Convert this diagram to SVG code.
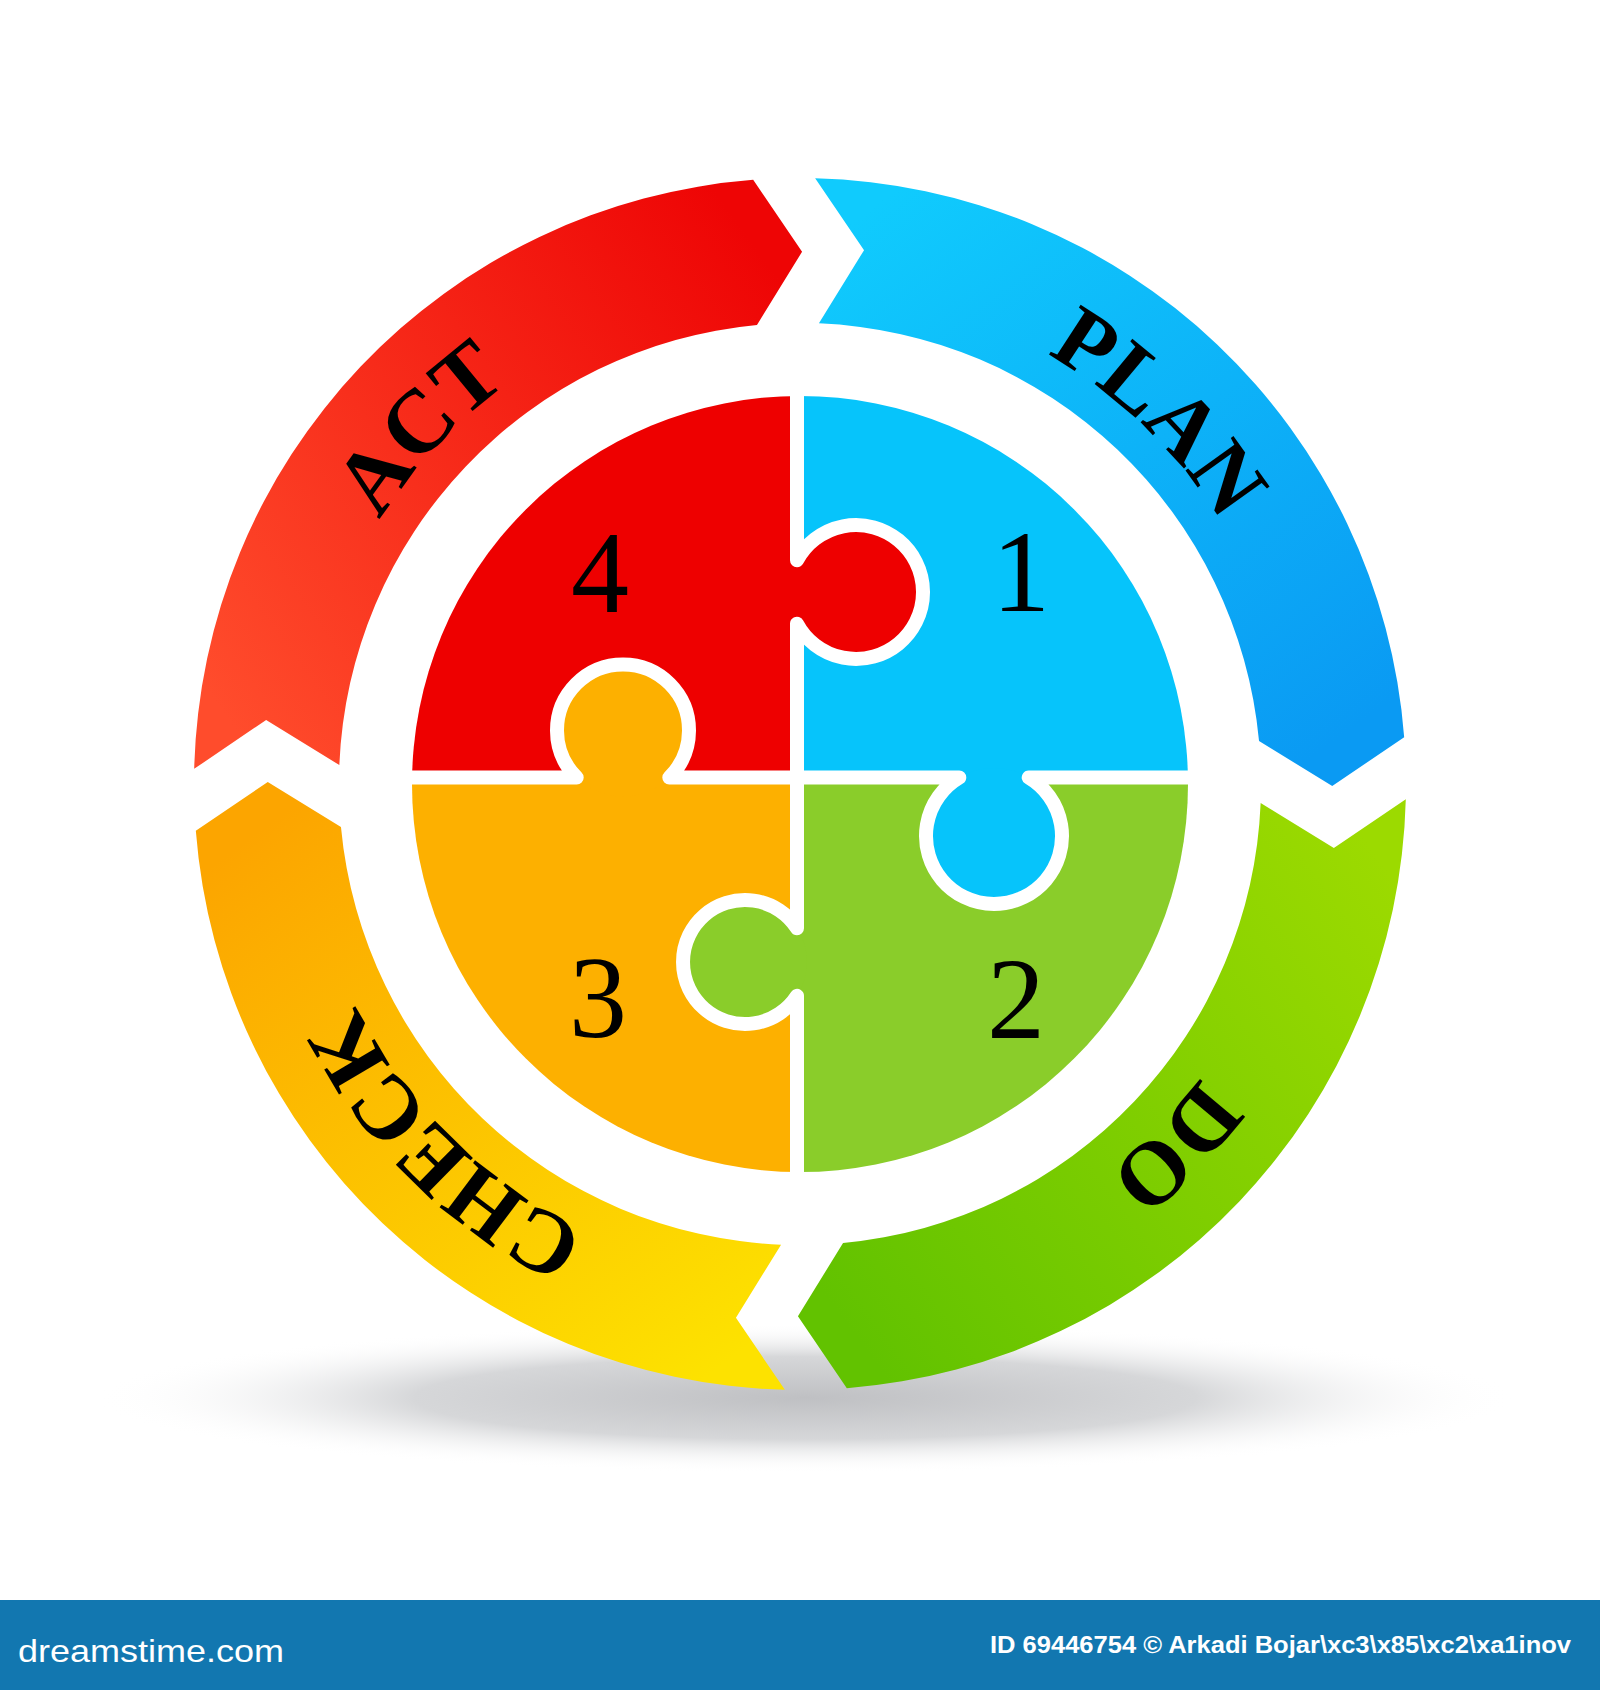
<svg xmlns="http://www.w3.org/2000/svg" width="1600" height="1690" viewBox="0 0 1600 1690">
<style>
.lbl{font-family:"Liberation Serif","Times New Roman",serif;font-weight:bold;font-size:90px;fill:#000}
.num{font-family:"Liberation Serif","Times New Roman",serif;font-size:116px;fill:#000;text-anchor:middle}
.seam{fill:none;stroke:#fff;stroke-width:14;stroke-linejoin:round}
.bar{font-family:"Liberation Sans",Arial,sans-serif;fill:#fff}
</style>
<defs>
<linearGradient id="gPlan" gradientUnits="userSpaceOnUse" x1="900" y1="200" x2="1300" y2="780"><stop offset="0" stop-color="#10cbfd"/><stop offset="1" stop-color="#0a9af3"/></linearGradient>
<linearGradient id="gDo" gradientUnits="userSpaceOnUse" x1="900" y1="200" x2="1300" y2="780"><stop offset="0" stop-color="#9cda00"/><stop offset="1" stop-color="#62c200"/></linearGradient>
<linearGradient id="gCheck" gradientUnits="userSpaceOnUse" x1="900" y1="200" x2="1300" y2="780"><stop offset="0" stop-color="#fde200"/><stop offset="1" stop-color="#fca500"/></linearGradient>
<linearGradient id="gAct" gradientUnits="userSpaceOnUse" x1="900" y1="200" x2="1300" y2="780"><stop offset="0" stop-color="#ff4c2c"/><stop offset="1" stop-color="#ee0505"/></linearGradient>
<radialGradient id="shadow" cx="0.5" cy="0.5" r="0.5"><stop offset="0" stop-color="#bfc0c3"/><stop offset="0.55" stop-color="#d6d7d9"/><stop offset="1" stop-color="#ffffff" stop-opacity="0"/></radialGradient>
<path id="seg" d="M831,178.8 A606,606 0 0 1 1405.2,753 L1332,800 L1260,753 A461,461 0 0 0 831,324 L878,252 Z"/>
<path id="tp" d="M800,288 A496,496 0 1 1 800,1280 A496,496 0 1 1 800,288"/>
<clipPath id="disk"><circle cx="800" cy="784" r="388"/></clipPath>
</defs>
<rect width="1600" height="1690" fill="#fff"/>
<ellipse id="shadow-base" cx="805" cy="1398" rx="710" ry="75" fill="url(#shadow)"/>

<g id="plan">
<use href="#seg" fill="url(#gPlan)" transform="rotate(-1.5 800 784)"/>
<text class="lbl"><textPath href="#tp" startOffset="381" text-anchor="middle">PLAN</textPath></text>
</g>
<g id="do">
<use href="#seg" fill="url(#gDo)" transform="rotate(88.5 800 784)"/>
<text class="lbl"><textPath href="#tp" startOffset="1160" text-anchor="middle">DO</textPath></text>
</g>
<g id="check">
<use href="#seg" fill="url(#gCheck)" transform="rotate(178.5 800 784)"/>
<text class="lbl"><textPath href="#tp" startOffset="1943" text-anchor="middle">CHECK</textPath></text>
</g>
<g id="act">
<use href="#seg" fill="url(#gAct)" transform="rotate(268.5 800 784)"/>
<text class="lbl"><textPath href="#tp" startOffset="2710" text-anchor="middle">ACT</textPath></text>
</g>

<g id="piece-4">
<rect x="400" y="380" width="397" height="397.5" fill="#ee0000" clip-path="url(#disk)"/>
</g>
<g id="piece-1">
<rect x="797" y="380" width="410" height="397.5" fill="#06c4fb" clip-path="url(#disk)"/>
</g>
<g id="piece-3">
<rect x="400" y="777.5" width="397" height="420" fill="#fdb000" clip-path="url(#disk)"/>
</g>
<g id="piece-2">
<rect x="797" y="777.5" width="410" height="420" fill="#8acd2a" clip-path="url(#disk)"/>
</g>
<g id="tabs">
<circle cx="856" cy="592" r="67" fill="#ee0000"/>
<circle cx="623" cy="730.5" r="66" fill="#fdb000"/>
<circle cx="994" cy="836" r="68" fill="#06c4fb"/>
<circle cx="745" cy="962" r="62" fill="#8acd2a"/>
</g>
<g id="seams">
<path class="seam" d="M797,380 V560.3 A67,67 0 1 1 797,623.7 V928.2 A62,62 0 1 0 797,995.8 V1190"/>
<path class="seam" d="M400,777.5 H576.7 A66,66 0 1 1 669.3,777.5 H959.3 A68,68 0 1 0 1028.7,777.5 H1200"/>
</g>
<g id="numbers">
<text class="num" x="1021" y="611">1</text>
<text class="num" x="1016" y="1038">2</text>
<text class="num" x="598" y="1037">3</text>
<text class="num" x="600" y="612">4</text>
</g>

<g id="footer">
<rect x="0" y="1600" width="1600" height="90" fill="#1277b0"/>
<text class="bar" x="18" y="1662" font-size="32" textLength="266" lengthAdjust="spacingAndGlyphs">dreamstime.com</text>
<text class="bar" x="990" y="1653" font-size="24" font-weight="bold" textLength="581" lengthAdjust="spacingAndGlyphs">ID 69446754 © Arkadi Bojar\xc3\x85\xc2\xa1inov</text>
</g>
</svg>
